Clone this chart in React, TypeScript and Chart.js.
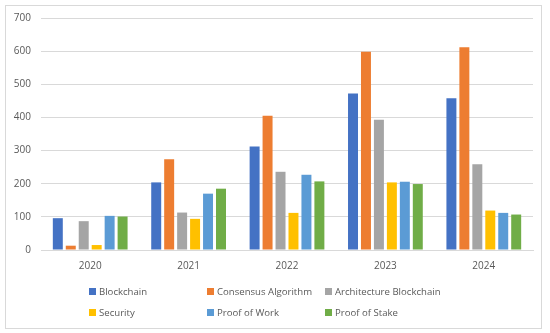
import React, { useEffect, useRef } from "react";
import { Chart, registerables } from "chart.js";

Chart.register(...registerables);

const categories = ["2020", "2021", "2022", "2023", "2024"];
const seriesNames = [
  "Blockchain",
  "Consensus Algorithm",
  "Architecture Blockchain",
  "Security",
  "Proof of Work",
  "Proof of Stake",
];
const blockchain = [96, 204, 312, 472, 458];
const consensusAlgorithm = [13, 274, 405, 598, 612];
const architectureBlockchain = [87, 113, 236, 393, 259];
const security = [15, 94, 112, 204, 119];
const proofOfWork = [103, 170, 227, 206, 112];
const proofOfStake = [101, 185, 207, 199, 107];
const seriesColors = ["#4472C4", "#ED7D31", "#A5A5A5", "#FFC000", "#5B9BD5", "#70AD47"];
const yMax = 700;
const yStep = 100;

const FONT = "'Open Sans', 'Noto Sans', sans-serif";
const TEXT = "#595959";

export default function App() {
  const ref = useRef<HTMLCanvasElement>(null);

  useEffect(() => {
    const values = [blockchain, consensusAlgorithm, architectureBlockchain, security, proofOfWork, proofOfStake];
    const chart = new Chart(ref.current!, {
      type: "bar",
      data: {
        labels: categories,
        datasets: seriesNames.map((name, i) => ({
          label: name,
          data: values[i],
          backgroundColor: seriesColors[i],
          borderWidth: 0,
          categoryPercentage: 0.79,
          barPercentage: 0.77,
        })),
      },
      options: {
        animation: false,
        responsive: false,
        maintainAspectRatio: false,
        layout: { padding: { left: 0, top: 18, right: 17, bottom: 0 } },
        plugins: { legend: { display: false }, tooltip: { enabled: false } },
        scales: {
          x: {
            grid: { display: false, drawTicks: false },
            border: { display: true, color: "#D9D9D9", width: 1 },
            ticks: { color: TEXT, font: { family: FONT, size: 10 }, padding: 10 },
            afterFit: (s: any) => {
              s.height = 83;
            },
          },
          y: {
            min: 0,
            max: yMax,
            grid: { color: "#D9D9D9", drawTicks: false, lineWidth: 1 },
            border: { display: false },
            ticks: { stepSize: yStep, color: TEXT, font: { family: FONT, size: 10 }, padding: 10 },
            afterFit: (s: any) => {
              s.width = 41;
            },
          },
        },
      },
    });
    return () => chart.destroy();
  }, []);

  const colLeft = [89, 207, 325];
  const rowTop = [291, 312];

  return (
    <div style={{ position: "absolute", left: 0, top: 0, width: 550, height: 333, background: "#fff" }}>
      <div
        style={{
          position: "absolute",
          left: 5,
          top: 5,
          width: 535,
          height: 322,
          border: "1px solid #D9D9D9",
        }}
      />
      <canvas ref={ref} width={550} height={333} style={{ position: "absolute", left: 0, top: 0 }} />
      {seriesNames.map((name, i) => (
        <div
          key={name}
          style={{
            position: "absolute",
            left: colLeft[i % 3],
            top: rowTop[Math.floor(i / 3)] - 7,
            height: 14,
            display: "flex",
            alignItems: "center",
            fontFamily: FONT,
            fontSize: 9.6,
            color: TEXT,
            whiteSpace: "nowrap",
          }}
        >
          <span style={{ display: "inline-block", width: 7, height: 7, background: seriesColors[i], marginRight: 3 }} />
          <span>{name}</span>
        </div>
      ))}
    </div>
  );
}
